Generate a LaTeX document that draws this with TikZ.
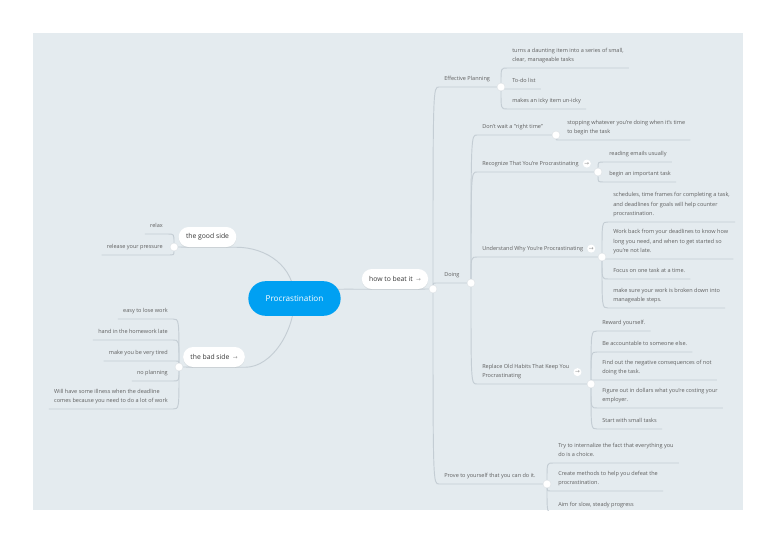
\documentclass[tikz,border=0pt]{standalone}
\usepackage{fontspec}
\setmainfont{Open Sans}
\newfontfamily\arrowfont{DejaVu Sans}
\usepackage{tikz}
\usepackage{color}
\usetikzlibrary{positioning,backgrounds,shadows}

\definecolor{panelfill}{RGB}{228,235,239}
\definecolor{linegrey}{RGB}{196,205,212}
\definecolor{txtgrey}{RGB}{95,95,95}
\definecolor{boxtxt}{RGB}{55,55,55}
\definecolor{procblue}{RGB}{0,160,242}
\definecolor{icongrey}{RGB}{150,150,150}

\newcommand{\leaffont}{\fontsize{4.15}{7}\selectfont}
\newcommand{\branchfont}{\fontsize{5.1}{6}\selectfont}
\newcommand{\foldarrow}{{\arrowfont\fontsize{4.3}{5}\selectfont\color{icongrey}→}}

\tikzset{
  link/.style={draw=linegrey, line width=0.7pt},
  leaf/.style={font=\leaffont, text=txtgrey, align=left, inner xsep=3.75pt, inner ysep=2.6pt, execute at end node=\strut},
  junction/.style={circle, fill=white, draw=linegrey!60, line width=0.3pt, inner sep=0pt, minimum size=6pt},
  branchbox/.style={rounded corners=7.5pt, fill=white, text=boxtxt, font=\branchfont, minimum height=15pt, inner xsep=5.5pt,
    drop shadow={opacity=0.12, shadow xshift=0pt, shadow yshift=-0.7pt}},
  maintopic/.style={rounded corners=13pt, fill=procblue, text=white, font=\fontsize{6.1}{7}\selectfont, minimum height=26pt, inner xsep=13pt},
  foldicon/.style={circle, fill=white, inner sep=0pt, minimum size=6pt}
}

\begin{document}
\begin{tikzpicture}[x=0.75pt,y=0.75pt,yscale=-1,xscale=1]
\useasboundingbox (0,0) rectangle (768,543);

%Shape: Rounded Rectangle [central topic]
\node[maintopic] (proc) at (294.5,298.5) {Procrastination};
%Shape: Rounded Rectangle [main branches]
\node[branchbox] (good) at (207.5,237) {the good side};
\node[branchbox] (bad) at (214,357) {the bad side\hspace{2.5pt}\foldarrow};
\node[branchbox] (beat) at (395,279) {how to beat it\hspace{2.5pt}\foldarrow};

%Shape: Circle [junctions]
\node[junction] (gj) at (174,247) {};
\node[junction] (bj) at (179,367) {};
\node[junction] (beatj) at (433,289) {};
\node[junction] (epj) at (501,87) {};
\node[junction] (dgj) at (471,283) {};
\node[junction] (dwj) at (556,135) {};
\node[junction] (rcj) at (598,172) {};
\node[junction] (udj) at (602,257) {};
\node[junction] (rpj) at (591,384) {};
\node[junction] (pvj) at (547,484) {};

% Text Node [the good side]
\node[leaf, anchor=south east] (gd1) at (168,234) {relax};
\node[leaf, anchor=south east] (gd2) at (168,255) {release your pressure};
% Text Node [the bad side]
\node[leaf, anchor=south east] (bd1) at (173,319) {easy to lose work};
\node[leaf, anchor=south east] (bd2) at (173,340) {hand in the homework late};
\node[leaf, anchor=south east] (bd3) at (173,361) {make you be very tired};
\node[leaf, anchor=south east] (bd4) at (173,381) {no planning};
\node[leaf, anchor=south east] (bd5) at (173,409) {Will have some illness when the deadline\\comes because you need to do a lot of work};

% Text Node [how to beat it]
\node[leaf, anchor=south west] (ep) at (439,87) {Effective Planning};
\node[leaf, anchor=south west] (dg) at (439,283) {Doing};
\node[leaf, anchor=south west] (pv) at (439,484) {Prove to yourself that you can do it.};

% Text Node [Effective Planning]
\node[leaf, anchor=south west] (ep1) at (507,68) {turns a daunting item into a series of small,\\clear, manageable tasks};
\node[leaf, anchor=south west] (ep2) at (507,89) {To-do list};
\node[leaf, anchor=south west] (ep3) at (507,109) {makes an icky item un-icky};

% Text Node [Doing]
\node[leaf, anchor=south west] (dw) at (477,135) {Don't wait a "right time"};
\node[leaf, anchor=south west] (rc) at (477,172) {Recognize That You're Procrastinating};
\node[leaf, anchor=south west] (ud) at (477,257) {Understand Why You're Procrastinating};
\node[leaf, anchor=south west] (rp) at (477,384) {Replace Old Habits That Keep You\\Procrastinating};
\node[foldicon, right=-1pt of rc] (rcfold) {\foldarrow};
\node[foldicon, right=-1pt of ud] (udfold) {\foldarrow};
\node[foldicon, right=-1pt of rp] (rpfold) {\foldarrow};

\node[leaf, anchor=south west] (dw1) at (562,140) {stopping whatever you're doing when it's time\\to begin the task};
\node[leaf, anchor=south west] (rc1) at (604,162) {reading emails usually};
\node[leaf, anchor=south west] (rc2) at (604,182) {begin an important task};
\node[leaf, anchor=south west] (ud1) at (608,222) {schedules, time frames for completing a task,\\and deadlines for goals will help counter\\procrastination.};
\node[leaf, anchor=south west] (ud2) at (608,259) {Work back from your deadlines to know how\\long you need, and when to get started so\\you're not late.};
\node[leaf, anchor=south west] (ud3) at (608,279) {Focus on one task at a time.};
\node[leaf, anchor=south west] (ud4) at (608,308) {make sure your work is broken down into\\manageable steps.};
\node[leaf, anchor=south west] (rp1) at (597,331) {Reward yourself.};
\node[leaf, anchor=south west] (rp2) at (597,352) {Be accountable to someone else.};
\node[leaf, anchor=south west] (rp3) at (597,380) {Find out the negative consequences of not\\doing the task.};
\node[leaf, anchor=south west] (rp4) at (597,408) {Figure out in dollars what you're costing your\\employer.};
\node[leaf, anchor=south west] (rp5) at (597,429) {Start with small tasks};

% Text Node [Prove to yourself]
\node[leaf, anchor=south west] (pv1) at (553,463) {Try to internalize the fact that everything you\\do is a choice.};
\node[leaf, anchor=south west] (pv2) at (553,491) {Create methods to help you defeat the\\procrastination.};
\node[leaf, anchor=south west] (pv3) at (553,513) {Aim for slow, steady progress};

\begin{scope}[on background layer]
%Shape: Rectangle [sheet]
\fill[panelfill] (33,33) rectangle (743,510);
\clip (33,33) rectangle (743,510);

%Curve Lines [central topic]
\draw[link] (gj) -- (good.south east) .. controls +(30,0) and +(0,-32) .. (proc.center);
\draw[link] (bj) -- (bad.south east) .. controls +(27,0) and +(0,32) .. (proc.center);
\draw[link] (proc.center) .. controls (325,289) .. (beat.south west) -- (beatj);

%Curve Lines [the good side]
\draw[link] (gj) .. controls (gj |- gd1.south east) .. (gd1.south east) -- (gd1.south west);
\draw[link] (gj) .. controls (gj |- gd2.south east) .. (gd2.south east) -- (gd2.south west);

%Curve Lines [the bad side]
\draw[link] (bj) .. controls (bj |- bd1.south east) .. (bd1.south east) -- (bd1.south west);
\draw[link] (bj) .. controls (bj |- bd2.south east) .. (bd2.south east) -- (bd2.south west);
\draw[link] (bj) .. controls (bj |- bd3.south east) .. (bd3.south east) -- (bd3.south west);
\draw[link] (bj) .. controls (bj |- bd4.south east) .. (bd4.south east) -- (bd4.south west);
\draw[link] (bj) .. controls (bj |- bd5.south east) .. (bd5.south east) -- (bd5.south west);

%Curve Lines [how to beat it]
\draw[link] (beatj) .. controls (beatj |- ep.south west) .. (ep.south west) -- (epj);
\draw[link] (beatj) .. controls (beatj |- dg.south west) .. (dg.south west) -- (dgj);
\draw[link] (beatj) .. controls (beatj |- pv.south west) .. (pv.south west) -- (pvj);

%Curve Lines [Effective Planning]
\draw[link] (epj) .. controls (epj |- ep1.south west) .. (ep1.south west) -- (ep1.south east);
\draw[link] (epj) .. controls (epj |- ep2.south west) .. (ep2.south west) -- (ep2.south east);
\draw[link] (epj) .. controls (epj |- ep3.south west) .. (ep3.south west) -- (ep3.south east);

%Curve Lines [Doing]
\draw[link] (dgj) .. controls (dgj |- dw.south west) .. (dw.south west) -- (dwj);
\draw[link] (dgj) .. controls (dgj |- rc.south west) .. (rc.south west) -- (rcj);
\draw[link] (dgj) .. controls (dgj |- ud.south west) .. (ud.south west) -- (udj);
\draw[link] (dgj) .. controls (dgj |- rp.south west) .. (rp.south west) -- (rpj);

\draw[link] (dwj) .. controls (dwj |- dw1.south west) .. (dw1.south west) -- (dw1.south east);
\draw[link] (rcj) .. controls (rcj |- rc1.south west) .. (rc1.south west) -- (rc1.south east);
\draw[link] (rcj) .. controls (rcj |- rc2.south west) .. (rc2.south west) -- (rc2.south east);
\draw[link] (udj) .. controls (udj |- ud1.south west) .. (ud1.south west) -- (ud1.south east);
\draw[link] (udj) .. controls (udj |- ud2.south west) .. (ud2.south west) -- (ud2.south east);
\draw[link] (udj) .. controls (udj |- ud3.south west) .. (ud3.south west) -- (ud3.south east);
\draw[link] (udj) .. controls (udj |- ud4.south west) .. (ud4.south west) -- (ud4.south east);
\draw[link] (rpj) .. controls (rpj |- rp1.south west) .. (rp1.south west) -- (rp1.south east);
\draw[link] (rpj) .. controls (rpj |- rp2.south west) .. (rp2.south west) -- (rp2.south east);
\draw[link] (rpj) .. controls (rpj |- rp3.south west) .. (rp3.south west) -- (rp3.south east);
\draw[link] (rpj) .. controls (rpj |- rp4.south west) .. (rp4.south west) -- (rp4.south east);
\draw[link] (rpj) .. controls (rpj |- rp5.south west) .. (rp5.south west) -- (rp5.south east);

%Curve Lines [Prove to yourself]
\draw[link] (pvj) .. controls (pvj |- pv1.south west) .. (pv1.south west) -- (pv1.south east);
\draw[link] (pvj) .. controls (pvj |- pv2.south west) .. (pv2.south west) -- (pv2.south east);
\draw[link] (pvj) .. controls (pvj |- pv3.south west) .. (pv3.south west) -- (pv3.south east);
\end{scope}

\end{tikzpicture}
\end{document}
